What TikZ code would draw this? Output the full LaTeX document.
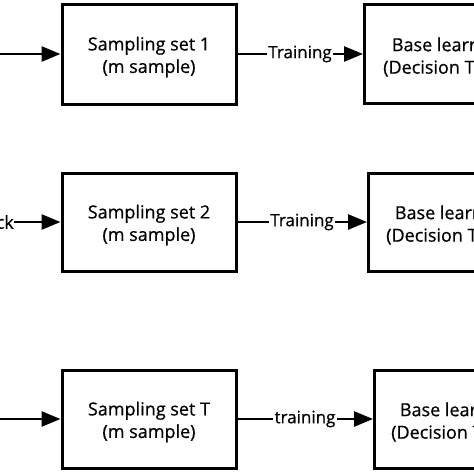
\documentclass[tikz,border=0pt]{standalone}
\usepackage{fontspec}
\setmainfont[FakeBold=0.6]{Open Sans}
\usetikzlibrary{arrows.meta}
\begin{document}
\begin{tikzpicture}[x=1pt,y=1pt,
  box/.style={draw, line width=3pt, rectangle, inner sep=0pt},
  txt/.style={inner sep=0pt, align=center, font=\fontsize{18}{22.5}\selectfont},
  lbl/.style={inner sep=1.5pt, font=\fontsize{17}{20}\selectfont},
  conn/.style={line width=2.6pt},
  arr/.style={conn, -{Triangle[length=19pt,width=15pt]}}]
\useasboundingbox (0,0) rectangle (474,-474);
\clip (0,0) rectangle (474,-474);
% row 1
\node[box, minimum width=174pt, minimum height=100pt] (s1) at (149,-54) {};
\node[txt] (st1) at (149,-57) {Sampling set 1\\(m sample)};
\node[box, minimum width=200pt, minimum height=99pt, anchor=west] (b1) at (363,-54) {};
\node[txt, anchor=west] (bt1) at (383,-57) {Base learner\\(Decision Tree)};
\coordinate (in1) at (0,-54);
\node[lbl] (t1) at (300,-54) {Training};
\draw[arr] (in1) -- (s1.west);
\draw[conn] (s1.east) -- (t1.west);
\draw[arr] (t1.east) -- (b1.west);
% row 2
\node[box, minimum width=174pt, minimum height=98pt] (s2) at (149,-222) {};
\node[txt] (st2) at (149,-225) {Sampling set 2\\(m sample)};
\node[box, minimum width=200pt, minimum height=98pt, anchor=west] (b2) at (367,-222) {};
\node[txt, anchor=west] (bt2) at (386,-225) {Base learner\\(Decision Tree)};
\node[txt, anchor=east] (in2) at (14,-222) {ck};
\node[lbl] (t2) at (302,-222) {Training};
\draw[arr] (in2) -- (s2.west);
\draw[conn] (s2.east) -- (t2.west);
\draw[arr] (t2.east) -- (b2.west);
% row 3
\node[box, minimum width=174pt, minimum height=98pt] (s3) at (149,-419) {};
\node[txt] (st3) at (149,-422) {Sampling set T\\(m sample)};
\node[box, minimum width=200pt, minimum height=98pt, anchor=west] (b3) at (373,-419) {};
\node[txt, anchor=west] (bt3) at (391,-422) {Base learner\\(Decision Tree)};
\coordinate (in3) at (0,-419);
\node[lbl] (t3) at (305,-419) {training};
\draw[arr] (in3) -- (s3.west);
\draw[conn] (s3.east) -- (t3.west);
\draw[arr] (t3.east) -- (b3.west);
\end{tikzpicture}
\end{document}
